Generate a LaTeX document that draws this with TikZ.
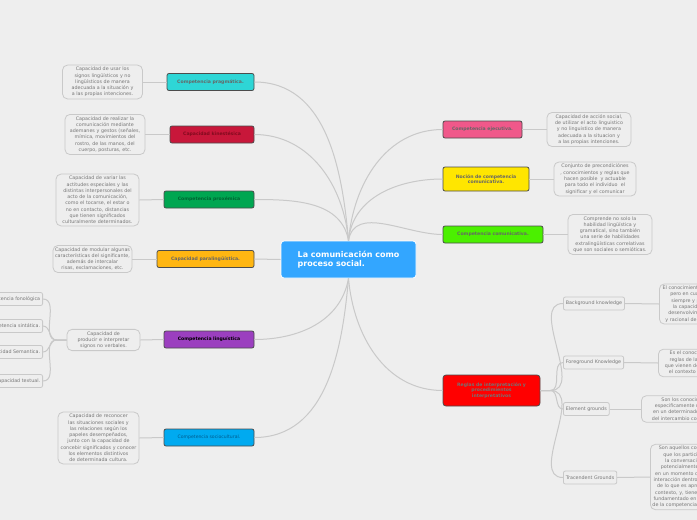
\documentclass[tikz,border=0pt]{standalone}
\usepackage{fontspec}
\setmainfont{DejaVu Sans}
\newcommand\nohyph{\hyphenpenalty=10000\relax\exhyphenpenalty=10000\relax}
\definecolor{bg}{HTML}{EEEEEE}
\definecolor{lin}{HTML}{C9C9C9}
\definecolor{dtxt}{HTML}{777777}
\definecolor{cblue}{RGB}{51,166,255}
\definecolor{ccyan}{RGB}{46,214,214}
\definecolor{ccrim}{RGB}{200,23,58}
\definecolor{ccrimt}{RGB}{130,10,30}
\definecolor{cgreen}{RGB}{0,166,81}
\definecolor{cgreent}{RGB}{0,100,50}
\definecolor{corange}{RGB}{255,182,18}
\definecolor{cpurple}{RGB}{155,63,191}
\definecolor{csky}{RGB}{0,170,240}
\definecolor{cskyt}{RGB}{0,90,140}
\definecolor{cpink}{RGB}{240,88,138}
\definecolor{cyellow}{RGB}{255,230,0}
\definecolor{clime}{RGB}{75,240,0}
\definecolor{cred}{RGB}{255,0,0}
\tikzset{
 main/.style={draw=black!70,line width=0.8pt,rounded corners=2pt,font=\bfseries\fontsize{4.6}{5.5}\selectfont,inner sep=1pt,align=center,minimum height=17pt,text=#1},
 desc/.style={draw=lin,fill=bg,line width=0.8pt,rounded corners=5pt,font=\fontsize{4.8}{6.3}\selectfont\nohyph,text=dtxt,align=center,inner sep=2pt},
 sub/.style={draw=lin,fill=bg,line width=0.8pt,rounded corners=2pt,font=\fontsize{4.8}{6}\selectfont,text=dtxt,inner sep=2.5pt,minimum height=13pt},
 con/.style={draw=lin,line width=1pt},
}
\begin{document}
\begin{tikzpicture}[x=1pt,y=-1pt]
\fill[bg] (0,0) rectangle (697,520);
\useasboundingbox (0,0) rectangle (697,520);
\node[draw=white,line width=0.8pt,fill=cblue,rounded corners=3pt,text=white,font=\bfseries\fontsize{8}{9.5}\selectfont,align=left,minimum width=135pt,minimum height=37pt,inner sep=2pt] (c) at (348.5,259.5) {La comunicación como\\proceso social.\hspace*{20pt}};
% left
\node[main=black!60,fill=ccyan,minimum width=87pt] (pr) at (210.5,82) {Competencia pragmática.};
\node[desc,text width=76pt] (prd) at (102.5,82) {Capacidad de usar los signos lingüísticos y no lingüísticos de manera adecuada a la situación y a las propias intenciones.};
\node[main=ccrimt,fill=ccrim,minimum width=84pt] (ki) at (212,134.5) {Capacidad kinestésica};
\node[desc,text width=76pt] (kid) at (105,134.5) {Capacidad de realizar la comunicación mediante ademanes y gestos (señales, mímica, movimientos del rostro, de las manos, del cuerpo, posturas, etc.};
\node[main=cgreent,fill=cgreen,minimum width=90pt] (px) at (209,199.5) {Competencia proxémica};
\node[desc,text width=79pt] (pxd) at (97.5,200) {Capacidad de variar las actitudes especiales y las distintas interpersonales del acto de la comunicación, como el tocarse, el estar o no en contacto, distancias que tienen significados culturalmente determinados.};
\node[main=black!60,fill=corange,minimum width=97pt] (pa) at (205.5,259) {Capacidad paralingüística.};
\node[desc,text width=75pt] (pad) at (92.5,259) {Capacidad de modular algunas características del significante, además de intercalar risas, exclamaciones, etc.};
\node[main=black,fill=cpurple,minimum width=90pt] (li) at (209,339.5) {Competencia linguística};
\node[desc,text width=69pt] (lid) at (103.5,340) {Capacidad de producir e interpretar signos no verbales.};
\node[sub,anchor=east] (s1) at (43,299) {Competencia fonológica};
\node[sub,anchor=east] (s2) at (43,326) {Competencia sintática.};
\node[sub,anchor=east] (s3) at (43,352) {Capacidad Semantica.};
\node[sub,anchor=east] (s4) at (43,381) {Capacidad textual.};
\node[main=cskyt,fill=csky,minimum width=90pt,font=\fontsize{4.6}{5.5}\selectfont] (so) at (209,437.5) {Competencia sociocultural.};
\node[desc,text width=77pt] (sod) at (98.5,438) {Capacidad de reconocer las situaciones sociales y las relaciones según los papeles desempeñados, junto con la capacidad de concebir significados y conocer los elementos distintivos de determinada cultura.};
% right
\node[main=black!60,fill=cpink,minimum width=79pt] (ej) at (482.5,129.5) {Competencia ejecutiva.};
\node[desc,text width=80pt] (ejd) at (589,129.5) {Capacidad de acción social, de utilizar el acto linguistico y no linguistico de manera adecuada a la situacion y a las propias intenciones.};
\node[main=black!60,fill=cyellow,minimum width=86pt,minimum height=24pt] (no) at (486,179) {Noción de competencia\\comunicativa.};
\node[desc,text width=78pt] (nod) at (595,179) {Conjunto de precondiciónes , conocimientos y reglas que hacen posible\ \ y actuable para todo el individuo\ \ el significar y el comunicar};
\node[main=black!60,fill=clime,minimum width=100pt] (cc) at (493,234.5) {Competencia comunicativa.};
\node[desc,text width=80pt] (ccd) at (610,234.5) {Comprende no solo la habilidad lingüística y gramatical, sino también una serie de habilidades extralingüísticas correlativas que son sociales o semióticas.};
\node[main=black!55,fill=cred,minimum width=97pt,minimum height=31pt,rounded corners=3pt] (re) at (491.5,390.5) {Reglas de interpretación y\\procedimientos\\interpretativos};
\node[sub,anchor=west] (b1) at (563,303.5) {Background knowledge};
\node[sub,anchor=west] (b2) at (563,362.5) {Foreground Knowledge};
\node[sub,anchor=west] (b3) at (563,409) {Element grounds};
\node[sub,anchor=west] (b4) at (563,477.5) {Tracendent Grounds};
\node[desc,anchor=west,text width=80pt] (b1d) at (659,304) {El conocimiento sobre el mundo pero en cuanto auténtico, siempre y por ello tienen la capacidad permitir el desenvolvimiento de forma y racional de la conversación.};
\node[desc,anchor=west,text width=80pt] (b2d) at (658,363) {Es el conocimiento de las reglas de la conversación que vienen determinadas por el contexto no es general.};
\node[desc,anchor=west,text width=90pt] (b3d) at (641,409) {Son los conocimientos especificamente necesarios en un determinado momento del intercambio comunicativo.};
\node[desc,anchor=west,text width=80pt] (b4d) at (650,477) {Son aquellos conocimientos que los participantes en la conversación tienen potencialmente presentes en un momento concreto de la interacción dentro de los limites de lo que es apropiado en un contexto, y, tienen un carácter fundamentado en la descripción de la competencia comunicativa.};
\foreach \nn/\ang in {pr/95,ki/95,px/100} \draw[con] (c.north) to[out=\ang,in=0] (\nn.east);
\foreach \nn/\ang in {li/-100,so/-95} \draw[con] (c.south) to[out=\ang,in=0] (\nn.east);
\draw[con] (c.west) -- (pa.east);
\foreach \nn/\ang in {ej/85,no/85,cc/80} \draw[con] (c.north) to[out=\ang,in=180] (\nn.west);
\draw[con] (c.south) to[out=-85,in=180] (re.west);
\foreach \aa/\bb in {pr/prd,ki/kid,px/pxd,pa/pad,li/lid,so/sod} \draw[con] (\aa.west) -- (\bb.east);
\foreach \aa/\bb in {ej/ejd,no/nod,cc/ccd,b1/b1d,b2/b2d,b3/b3d,b4/b4d} \draw[con] (\aa.east) -- (\bb.west);
\foreach \ss in {s1,s2,s3,s4} \draw[con] (lid.west) -- ++(-10,0) to[out=180,in=0] (\ss.east);
\foreach \ss in {b1,b2,b3,b4} \draw[con] (re.east) -- ++(10,0) to[out=0,in=180] (\ss.west);
\end{tikzpicture}
\end{document}
